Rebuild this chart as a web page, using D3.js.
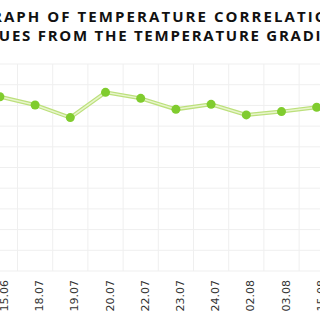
<!DOCTYPE html>
<html>
<head>
<meta charset="utf-8">
<script src="https://cdn.jsdelivr.net/npm/d3@7"></script>
<style>
  html, body { margin: 0; padding: 0; background: #fff; overflow: hidden; }
</style>
</head>
<body>
<div id="chart"></div>
<script>
// dates shown on the x axis
const dates = ['15.06', '18.07', '19.07', '20.07', '22.07', '23.07', '24.07', '02.08', '03.08', '15.08'];
// correlation values
const values = [0.842, 0.802, 0.741, 0.863, 0.834, 0.781, 0.805, 0.754, 0.770, 0.791];
const yTicks = [0, 0.1, 0.2, 0.3, 0.4, 0.5, 0.6, 0.7, 0.8, 0.9, 1.0];
const titleLines = ['GRAPH OF TEMPERATURE CORRELATION', 'VALUES FROM THE TEMPERATURE GRADIENT'];

const width = 320, height = 320;
const svg = d3.select('#chart')
    .append('svg')
    .attr('width', width)
    .attr('height', height);

const data = dates.map((d, i) => ({ date: d, value: values[i] }));

// band scale, the visible window cuts the first and last band in half
let x = d3.scaleBand()
    .domain(dates)
    .range([-17.7, 334.3])
    .padding(0);
let y = d3.scaleLinear()
    .domain([0, 1])
    .range([271, 64]);

// grid
svg.append('g')
    .selectAll('line')
    .data(yTicks)
    .join('line')
    .attr('x1', 0).attr('x2', width)
    .attr('y1', d => y(d)).attr('y2', d => y(d))
    .attr('stroke', '#efefef')
    .attr('stroke-width', 1);
svg.append('g')
    .selectAll('line')
    .data(dates.slice(1))
    .join('line')
    .attr('x1', d => x(d)).attr('x2', d => x(d))
    .attr('y1', y(1)).attr('y2', y(0))
    .attr('stroke', '#efefef')
    .attr('stroke-width', 1);

// x labels, rotated
svg.append('g')
    .selectAll('text')
    .data(dates)
    .join('text')
    .attr('transform', d => `translate(${x(d) + x.bandwidth() / 2 + 4.2}, 280) rotate(-90)`)
    .attr('text-anchor', 'end')
    .attr('dy', '0.35em')
    .attr('font-family', 'DejaVu Sans, sans-serif')
    .attr('font-size', '11px')
    .attr('fill', '#333')
    .text(d => d);

// line
const line = d3.line()
    .x(d => x(d.date) + x.bandwidth() / 2)
    .y(d => y(d.value));
svg.append('path')
    .datum(data)
    .attr('fill', 'none')
    .attr('stroke', '#bce07c')
    .attr('stroke-width', 4)
    .attr('d', line);
svg.append('path')
    .datum(data)
    .attr('fill', 'none')
    .attr('stroke', '#e8f5cc')
    .attr('stroke-width', 1.5)
    .attr('d', line);

svg.append('g')
    .selectAll('circle')
    .data(data)
    .join('circle')
    .attr('cx', d => x(d.date) + x.bandwidth() / 2)
    .attr('cy', d => y(d.value))
    .attr('r', 4.5)
    .attr('fill', '#80cc2e');

// title, wider than the window
svg.append('g')
    .selectAll('text')
    .data(titleLines)
    .join('text')
    .attr('x', 160)
    .attr('y', (d, i) => i === 0 ? 22 : 41)
    .attr('text-anchor', 'middle')
    .attr('font-family', 'Open Sans, sans-serif')
    .attr('font-weight', 'bold')
    .attr('font-size', '15px')
    .attr('fill', '#111')
    .attr('textLength', (d, i) => i === 0 ? 362 : 390)
    .attr('lengthAdjust', 'spacing')
    .text(d => d);
</script>
</body>
</html>
